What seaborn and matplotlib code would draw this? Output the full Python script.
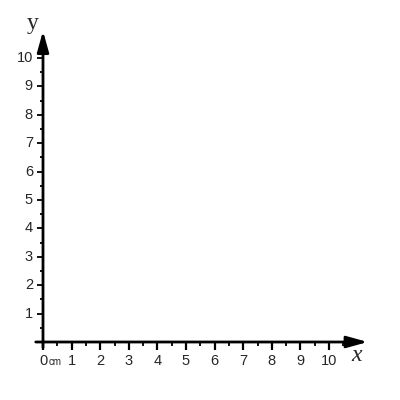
import numpy as np
import matplotlib
matplotlib.use("Agg")
import matplotlib.pyplot as plt
import seaborn as sns

# tick values
x_major = list(range(0, 11))
x_minor = [i + 0.5 for i in range(0, 11)]
y_major = list(range(1, 11))
y_minor = [i + 0.5 for i in range(0, 11)]
x_labels = ["0"] + [str(i) for i in range(1, 11)]
y_labels = [str(i) for i in range(1, 11)]

sns.set_style("white")
plt.rcParams['font.family'] = ['Liberation Sans', 'DejaVu Sans']

fig = plt.figure(figsize=(4, 4), dpi=100)
ax = fig.add_axes([0, 0, 1, 1])
ux, uy = 28.6, 28.4
ax.set_xlim(-43 / ux, (400 - 43) / ux)
ax.set_ylim(-58 / uy, (400 - 58) / uy)
ax.axis("off")

# axes with arrows
arrow = dict(arrowstyle="-|>,head_length=0.9,head_width=0.25", color="black",
             lw=2, mutation_scale=14)
ax.annotate("", xy=(11.45, 0), xytext=(-0.35, 0), arrowprops=arrow)
ax.annotate("", xy=(0, 11.05), xytext=(0, -0.3), arrowprops=arrow)

# x ticks
ax.vlines(x_major, -0.28, 0, color="black", lw=1.6)
ax.vlines(x_minor, -0.14, 0, color="black", lw=1.3)
for x, lab in zip(x_major, x_labels):
    ax.text(x, -0.68, lab, ha="center", va="center", fontsize=10.5)
ax.text(0.2, -0.72, "cm", ha="left", va="center", fontsize=7)

# y ticks
ax.hlines(y_major, -0.22, 0, color="black", lw=1.3)
ax.hlines(y_minor, -0.11, 0, color="black", lw=1.3)
for y, lab in zip(y_major, y_labels):
    ax.text(-0.35, y, lab, ha="right", va="center", fontsize=10.5)

# axis names
ax.text(10.95, -0.47, "x", ha="center", va="center", fontsize=17,
        family="Liberation Serif", style="italic")
ax.text(-0.35, 11.2, "y", ha="center", va="center", fontsize=17,
        family="Liberation Serif")

fig.savefig("out.png", dpi=100)
